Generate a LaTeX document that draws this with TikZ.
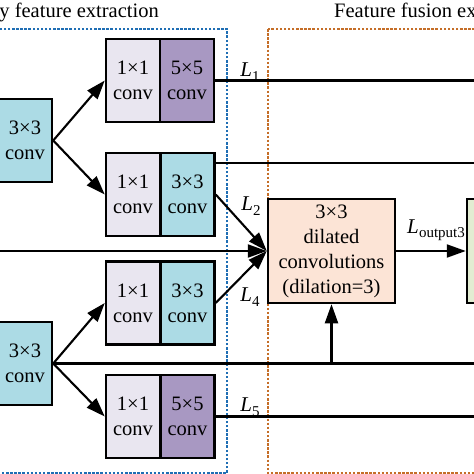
\documentclass[tikz,border=0pt]{standalone}
\usepackage{fontspec}
\setmainfont{Liberation Serif}
\usetikzlibrary{arrows.meta}
\definecolor{lav}{RGB}{233,230,240}
\definecolor{purp}{RGB}{168,152,194}
\definecolor{lblue}{RGB}{172,219,229}
\definecolor{peach}{RGB}{252,228,214}
\definecolor{lgreen}{RGB}{226,236,210}
\definecolor{dotblue}{RGB}{31,110,180}
\definecolor{dotorange}{RGB}{197,110,40}
\newcommand{\Lsub}[1]{\textit{L}\kern0.3pt\raisebox{-4.5pt}{\fontsize{15}{15}\selectfont #1}}
\begin{document}
\begin{tikzpicture}[x=1pt,y=-1pt,
  box/.style={draw=black, line width=2.5pt, inner sep=0pt, align=center,
    minimum width=54pt, minimum height=83pt,
    font=\fontsize{20.5}{25}\selectfont},
  conn/.style={draw=black, line width=2.1pt},
  arr/.style={conn, -{Triangle[length=19pt,width=13pt]}},
  region/.style={line width=1.6pt, dash pattern=on 2.5pt off 1.6pt},
  lbl/.style={inner sep=0pt, font=\fontsize{21}{24}\selectfont},
  title/.style={inner sep=0pt, font=\fontsize{20.5}{24}\selectfont}]
\useasboundingbox (0,0) rectangle (474,474);
\clip (0,0) rectangle (474,474);

% region frames
\draw[region, draw=dotblue] (-5,29) rectangle (227,473);
\draw[region, draw=dotorange] (268,29) rectangle (485,473);

% titles
\node[title, anchor=base east] (t1) at (159,17) {ry feature extraction};
\node[title, anchor=base west] (t2) at (334,17) {Feature fusion ex};

% boxes
\node[box, fill=lblue] (c1) at (25,140.5) {3×3\\conv};
\node[box, fill=lblue] (c2) at (25,363.5) {3×3\\conv};

\node[box, fill=lav]  (a1) at (133,80.5) {1×1\\conv};
\node[box, fill=purp] (a2) at (187,80.5) {5×5\\conv};
\node[box, fill=lav]  (b1) at (133,194.5) {1×1\\conv};
\node[box, fill=lblue] (b2) at (187.5,194.5) {3×3\\conv};
\node[box, fill=lav]  (d1) at (133,303) {1×1\\conv};
\node[box, fill=lblue] (d2) at (187.5,303) {3×3\\conv};
\node[box, fill=lav]  (e1) at (133,416.5) {1×1\\conv};
\node[box, fill=purp] (e2) at (187.5,416.5) {5×5\\conv};

\node[box, fill=peach, minimum width=127pt, minimum height=104pt] (dil) at (331.5,251)
  {3×3\\dilated\\convolutions\\(dilation=3)};
\node[box, fill=lgreen, minimum width=63pt, minimum height=104pt] (gr) at (498.5,251) {};

% free ends
\coordinate (rA) at (480,80.5);
\coordinate (rB) at (480,163);
\coordinate (in0) at (-8,251);
\coordinate (rC) at (480,363.5);
\coordinate (rE) at (480,416.5);
\coordinate (tap) at (331.5,363.5);

% connectors
\draw[arr] (c1.east) -- (a1.west);
\draw[arr] (c1.east) -- (b1.west);
\draw[arr] (c2.east) -- (d1.west);
\draw[arr] (c2.east) -- (e1.west);

\draw[conn] (a2.east) -- (rA);
\draw[conn] ([yshift=31.5pt]b2.east) -- (rB);
\draw[arr] (b2.east) -- (dil.west);
\draw[arr] (in0) -- (dil.west);
\draw[arr] (d2.east) -- (dil.west);
\draw[conn] (c2.east) -- (rC);
\draw[arr] (tap) -- (dil.south);
\draw[conn] (e2.east) -- (rE);
\draw[arr] (dil.east) -- (gr.west);

% labels
\node[lbl] (l1) at (250,72) {\Lsub{1}};
\node[lbl] (l2) at (251,206) {\Lsub{2}};
\node[lbl] (l4) at (250,297) {\Lsub{4}};
\node[lbl] (l5) at (250,407) {\Lsub{5}};
\node[lbl] (lo) at (436,230) {\Lsub{output3}};
\end{tikzpicture}
\end{document}
